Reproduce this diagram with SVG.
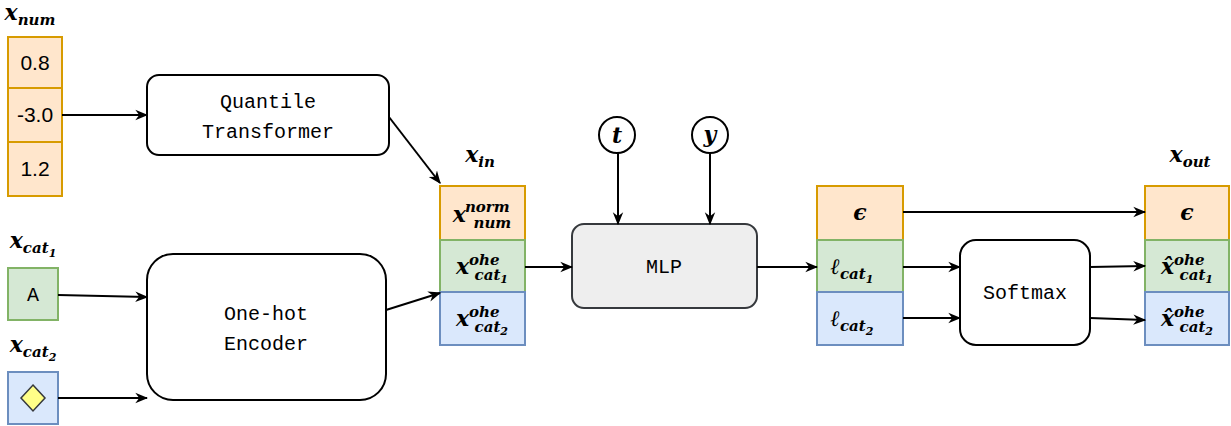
<svg xmlns="http://www.w3.org/2000/svg" width="1231" height="426" viewBox="0 0 1231 426">
<defs>
<marker id="ah" viewBox="0 0 10 10" refX="9" refY="5" markerWidth="13" markerHeight="13" markerUnits="userSpaceOnUse" orient="auto"><path d="M0,1 L10,5 L0,9 L3,5 Z" fill="#000"/></marker>
</defs>
<style>
.o{fill:#ffe6cc;stroke:#d79b00;stroke-width:2}
.g{fill:#d5e8d4;stroke:#82b366;stroke-width:2}
.b{fill:#dae8fc;stroke:#6c8ebf;stroke-width:2}
.box{fill:#fff;stroke:#000;stroke-width:2}
.m{font-family:"Liberation Mono",monospace;font-size:20px;text-anchor:middle}
.s{font-family:"Liberation Sans",Arial,sans-serif;font-size:21px;text-anchor:middle}
.x{font-family:"DejaVu Serif","Liberation Serif",serif;font-style:italic;font-weight:bold;font-size:22px;text-anchor:middle}
.sub{font-size:15px}
.c{stroke:#000;stroke-width:2;fill:none;marker-end:url(#ah)}
</style>
<g id="xnum">
<text class="x" x="30" y="20">x<tspan class="sub" dy="5">num</tspan></text>
<rect class="o" x="8" y="37" width="54" height="51"/><text class="s" x="35" y="70">0.8</text>
<rect class="o" x="8" y="88" width="54" height="54"/><text class="s" x="35" y="122">-3.0</text>
<rect class="o" x="8" y="142" width="54" height="54"/><text class="s" x="35" y="176">1.2</text>
</g>
<g id="xcat1">
<text class="x" x="33" y="248">x<tspan class="sub" dy="5">cat</tspan><tspan font-size="11" dy="4">1</tspan></text>
<rect class="g" x="8" y="268" width="50" height="52"/><text class="m" x="33" y="301">A</text>
</g>
<g id="xcat2">
<text class="x" x="33" y="352">x<tspan class="sub" dy="5">cat</tspan><tspan font-size="11" dy="4">2</tspan></text>
<rect class="b" x="8" y="372" width="50" height="52"/><path d="M33,385 L45,398 L33,411 L21,398 Z" fill="#ffff88" stroke="#36393d" stroke-width="1.5"/>
</g>
<g id="quantile"><rect class="box" x="147" y="75" width="242" height="80" rx="12"/><text class="m" x="268" y="108">Quantile</text><text class="m" x="268" y="138">Transformer</text></g>
<g id="onehot"><rect class="box" x="147" y="254" width="239" height="146" rx="26"/><text class="m" x="266" y="320">One-hot</text><text class="m" x="266" y="350">Encoder</text></g>
<g id="xin">
<text class="x" x="480" y="162">x<tspan class="sub" dy="5">in</tspan></text>
<rect class="o" x="440" y="186" width="85" height="54"/><text class="x" x="482" y="222">x<tspan class="sub" dx="-1" dy="-10">norm</tspan><tspan class="sub" dx="-36" dy="16">num</tspan></text>
<rect class="g" x="440" y="240" width="85" height="52"/><text class="x" x="482" y="274">x<tspan class="sub" dy="-9">ohe</tspan><tspan class="sub" dx="-25" dy="15">cat</tspan><tspan font-size="11" dy="3">1</tspan></text>
<rect class="b" x="440" y="292" width="85" height="53"/><text class="x" x="482" y="326">x<tspan class="sub" dy="-9">ohe</tspan><tspan class="sub" dx="-25" dy="15">cat</tspan><tspan font-size="11" dy="3">2</tspan></text>
</g>
<g id="t"><circle cx="617" cy="135" r="18" fill="#fff" stroke="#000" stroke-width="2"/><text class="x" x="617" y="143">t</text></g>
<g id="y"><circle cx="710" cy="135" r="18" fill="#fff" stroke="#000" stroke-width="2"/><text class="x" x="710" y="142">y</text></g>
<g id="mlp"><rect x="572" y="224" width="185" height="84" rx="12" fill="#eeeeee" stroke="#36393d" stroke-width="2"/><text class="m" x="664" y="273">MLP</text></g>
<g id="out1">
<rect class="o" x="817" y="186" width="86" height="54"/><text class="x" x="860" y="220">ϵ</text>
<rect class="g" x="817" y="240" width="86" height="52"/><text class="x" x="852" y="274">ℓ<tspan class="sub" dy="5">cat</tspan><tspan font-size="11" dy="4">1</tspan></text>
<rect class="b" x="817" y="292" width="86" height="53"/><text class="x" x="852" y="326">ℓ<tspan class="sub" dy="5">cat</tspan><tspan font-size="11" dy="4">2</tspan></text>
</g>
<g id="softmax"><rect class="box" x="960" y="240" width="130" height="105" rx="16"/><text class="m" x="1025" y="299">Softmax</text></g>
<g id="xout">
<text class="x" x="1190" y="162">x<tspan class="sub" dy="5">out</tspan></text>
<rect class="o" x="1145" y="186" width="84" height="54"/><text class="x" x="1187" y="220">ϵ</text>
<rect class="g" x="1145" y="240" width="84" height="52"/><text class="x" x="1187" y="274">x̂<tspan class="sub" dy="-9">ohe</tspan><tspan class="sub" dx="-25" dy="15">cat</tspan><tspan font-size="11" dy="3">1</tspan></text>
<rect class="b" x="1145" y="292" width="84" height="53"/><text class="x" x="1187" y="326">x̂<tspan class="sub" dy="-9">ohe</tspan><tspan class="sub" dx="-25" dy="15">cat</tspan><tspan font-size="11" dy="3">2</tspan></text>
</g>
<g id="connectors">
<path class="c" d="M62,115 L147,115"/>
<path class="c" d="M58,295 L147,297"/>
<path class="c" d="M58,398 L147,398"/>
<path class="c" d="M389,117 L440,183"/>
<path class="c" d="M386,310 L440,293"/>
<path class="c" d="M525,267 L572,267"/>
<path class="c" d="M618,153 L618,224"/>
<path class="c" d="M710,153 L710,224"/>
<path class="c" d="M757,267 L817,267"/>
<path class="c" d="M903,212 L1145,212"/>
<path class="c" d="M903,267 L960,267"/>
<path class="c" d="M903,318 L960,318"/>
<path class="c" d="M1090,267 L1145,266"/>
<path class="c" d="M1090,318 L1145,320"/>
</g>
</svg>
